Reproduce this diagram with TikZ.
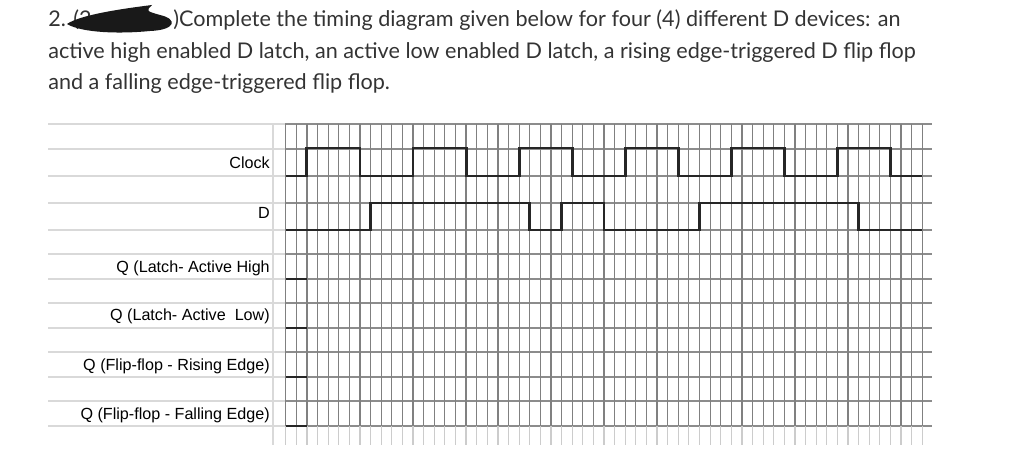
\documentclass[tikz,border=0pt]{standalone}
\usepackage{fontspec}
\setmainfont{Lato}
\newfontfamily\labelfont{Liberation Sans}
\begin{document}
\begin{tikzpicture}[x=0.75pt,y=-0.75pt,
  sig/.style={line width=2.2pt,color=black!85},
  lbl/.style={anchor=base east,inner sep=0pt,font=\labelfont\fontsize{12.1}{14}\selectfont},
  ttl/.style={anchor=base west,inner sep=0pt,text=black!80,font=\fontsize{16.2}{19}\selectfont}]
\useasboundingbox (0,0) rectangle (1024,470);
% question text
\node[ttl] (t1a) at (48,27) {2. (2};
\node[ttl] (t1b) at (173,27) {)Complete the timing diagram given below for four (4) different D devices: an};
\node[ttl] (t2) at (48,58.5) {active high enabled D latch, an active low enabled D latch, a rising edge-triggered D flip flop};
\node[ttl] (t3) at (48,90) {and a falling edge-triggered flip flop.};
\fill[black!90] (67,24) .. controls (80,15) and (120,9) .. (152,5)
  .. controls (146,11) .. (160,15) .. controls (178,19) and (176,30) .. (150,31)
  .. controls (120,34) and (82,33) .. (67,24) -- cycle;
% grid
\foreach \y in {124,149,176,203,230,254,279,303,328,352,377,401,426} {
  \draw[black!15,line width=1pt] (48,\y) -- (285,\y);
  \draw[black!45,line width=0.9pt] (285,\y) -- (932,\y);
}
\draw[black!15,line width=1pt] (273,124) -- (273,445);
\begin{scope}[shift={(285.7,0)},x=7.9575pt]
  \foreach \i in {0,...,60} {
    \draw[black!50,line width=0.9pt] (\i,124) -- (\i,426);
    \draw[black!20,line width=0.9pt] (\i,426) -- (\i,445);
  }
  % clock
  \draw[sig] (0,176) \foreach \k in {0,...,5} { -| (2+10*\k,148) -| (7+10*\k,176) } -- (60,176);
  % D
  \draw[sig] (0,230) -| (8,203) -| (23,230) -| (26,203) -| (30,230) -| (39,203) -| (54,230) -- (60,230);
  % outputs, only start given
  \foreach \y in {279,328,377,426}
    \draw[sig] (0,\y) -- (2,\y);
\end{scope}
% row labels
\node[lbl] (clk) at (270,168.3) {Clock};
\node[lbl] (d) at (270,219) {D};
\node[lbl] (qhi) at (270,272.3) {Q (Latch- Active High};
\node[lbl] (qlo) at (270,320.7) {Q (Latch- Active~~Low)};
\node[lbl] (qre) at (270,370.7) {Q (Flip-flop - Rising Edge)};
\node[lbl] (qfe) at (270,419.3) {Q (Flip-flop - Falling Edge)};
\end{tikzpicture}
\end{document}
